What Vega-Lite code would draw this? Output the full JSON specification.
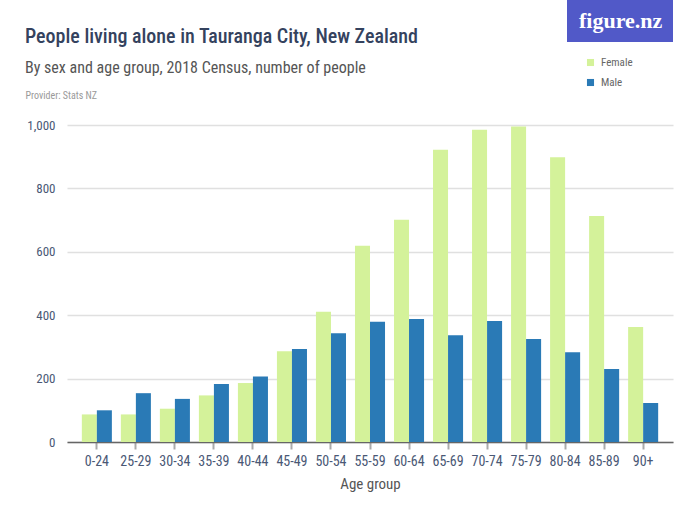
{
  "$schema": "https://vega.github.io/schema/vega-lite/v6.json",
  "width": 606,
  "height": 317,
  "autosize": {"type": "none"},
  "padding": {"left": 67, "top": 125, "right": 27, "bottom": 83},
  "background": "white",
  "title": {
    "text": "People living alone in Tauranga City, New Zealand",
    "subtitle": "By sex and age group, 2018 Census, number of people",
    "anchor": "start",
    "frame": "group",
    "dx": -42,
    "offset": 0,
    "dy": 76,
    "font": "Liberation Sans Narrow, Roboto Condensed, DejaVu Sans Condensed, Roboto",
    "fontSize": 20,
    "fontWeight": 500,
    "color": "#34425e",
    "subtitleFont": "Liberation Sans Narrow, Roboto Condensed, DejaVu Sans Condensed, Roboto",
    "subtitleFontSize": 16,
    "subtitleColor": "#555555",
    "subtitlePadding": 13
  },
  "data": {
    "values": [
      {"age": "0-24", "sex": "Female", "n": 87},
      {"age": "0-24", "sex": "Male", "n": 100},
      {"age": "25-29", "sex": "Female", "n": 87},
      {"age": "25-29", "sex": "Male", "n": 154},
      {"age": "30-34", "sex": "Female", "n": 105},
      {"age": "30-34", "sex": "Male", "n": 136},
      {"age": "35-39", "sex": "Female", "n": 147},
      {"age": "35-39", "sex": "Male", "n": 183},
      {"age": "40-44", "sex": "Female", "n": 186},
      {"age": "40-44", "sex": "Male", "n": 207},
      {"age": "45-49", "sex": "Female", "n": 286},
      {"age": "45-49", "sex": "Male", "n": 293},
      {"age": "50-54", "sex": "Female", "n": 411},
      {"age": "50-54", "sex": "Male", "n": 343},
      {"age": "55-59", "sex": "Female", "n": 619},
      {"age": "55-59", "sex": "Male", "n": 379},
      {"age": "60-64", "sex": "Female", "n": 701},
      {"age": "60-64", "sex": "Male", "n": 388},
      {"age": "65-69", "sex": "Female", "n": 922},
      {"age": "65-69", "sex": "Male", "n": 337},
      {"age": "70-74", "sex": "Female", "n": 985},
      {"age": "70-74", "sex": "Male", "n": 382},
      {"age": "75-79", "sex": "Female", "n": 995},
      {"age": "75-79", "sex": "Male", "n": 325},
      {"age": "80-84", "sex": "Female", "n": 898},
      {"age": "80-84", "sex": "Male", "n": 283},
      {"age": "85-89", "sex": "Female", "n": 713},
      {"age": "85-89", "sex": "Male", "n": 230},
      {"age": "90+", "sex": "Female", "n": 363},
      {"age": "90+", "sex": "Male", "n": 123}
    ]
  },
  "mark": {"type": "bar"},
  "encoding": {
    "x": {
      "field": "age",
      "type": "nominal",
      "sort": null,
      "scale": {"paddingInner": 0.23, "paddingOuter": 0.38},
      "axis": {
        "title": "Age group",
        "labelAngle": 0,
        "labelFont": "Liberation Sans Narrow, Roboto Condensed, DejaVu Sans Condensed, Roboto",
        "labelFontSize": 14,
        "labelColor": "#4a5875",
        "labelPadding": 5,
        "tickColor": "#aaaaaa",
        "tickWidth": 2,
        "tickSize": 7,
        "domainColor": "#666666",
        "domainWidth": 1.5,
        "titleFont": "Liberation Sans Narrow, Roboto Condensed, DejaVu Sans Condensed, Roboto",
        "titleFontSize": 15,
        "titleFontWeight": "normal",
        "titleColor": "#555555",
        "titlePadding": 8
      }
    },
    "xOffset": {"field": "sex", "type": "nominal", "sort": ["Female", "Male"]},
    "y": {
      "field": "n",
      "type": "quantitative",
      "scale": {"domain": [0, 1000], "nice": false},
      "axis": {
        "values": [0, 200, 400, 600, 800, 1000],
        "format": ",d",
        "domain": false,
        "ticks": false,
        "gridColor": "#e0e0e0",
        "gridWidth": 1.5,
        "labelPadding": 12,
        "labelFont": "Liberation Sans Narrow, Roboto Condensed, DejaVu Sans Condensed, Roboto",
        "labelFontSize": 13,
        "labelColor": "#4a5875",
        "title": "Provider: Stats NZ",
        "titleAngle": 0,
        "titleX": -42,
        "titleY": -30,
        "titleAlign": "left",
        "titleBaseline": "middle",
        "titleFont": "Liberation Sans Narrow, Roboto Condensed, DejaVu Sans Condensed, Roboto",
        "titleFontSize": 10,
        "titleFontWeight": "normal",
        "titleColor": "#999999"
      }
    },
    "color": {
      "field": "sex",
      "type": "nominal",
      "scale": {"domain": ["Female", "Male"], "range": ["#d4f29a", "#2a7ab6"]},
      "legend": {
        "title": null,
        "orient": "none",
        "legendX": 518,
        "legendY": -68,
        "symbolType": "square",
        "symbolSize": 50,
        "labelFont": "Liberation Sans Narrow, Roboto Condensed, DejaVu Sans Condensed, Roboto",
        "labelFontSize": 11,
        "labelColor": "#666666",
        "rowPadding": 8,
        "labelOffset": 5
      }
    },
    "strokeDash": {
      "datum": "figure.nz",
      "legend": {
        "title": null,
        "orient": "none",
        "legendX": 500,
        "legendY": -125,
        "fillColor": "#5159c8",
        "padding": 10,
        "symbolOpacity": 0,
        "symbolSize": 0,
        "symbolStrokeWidth": 0,
        "labelOffset": -20,
        "labelFont": "Liberation Serif, DejaVu Serif, serif",
        "labelFontSize": 22,
        "labelFontWeight": "bold",
        "labelColor": "white"
      }
    }
  },
  "config": {"view": {"stroke": null}}
}
